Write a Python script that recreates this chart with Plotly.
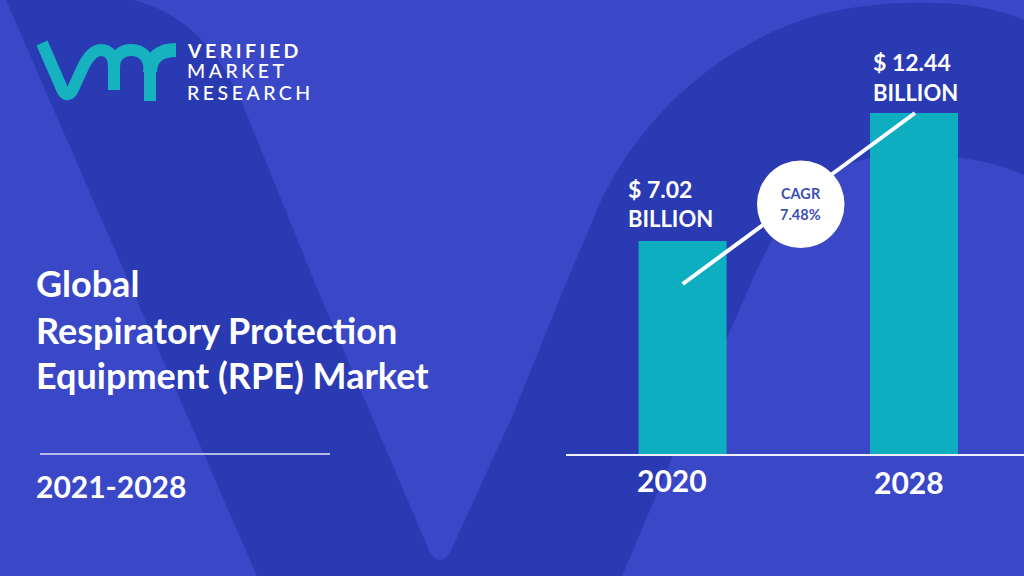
import plotly.graph_objects as go

years = ["2020", "2028"]
market_size = [7.02, 12.44]
cagr = "7.48%"
title_lines = ["Global", "Respiratory Protection", "Equipment (RPE) Market"]
period = "2021-2028"
brand_lines = ["VERIFIED", "MARKET", "RESEARCH"]

W, H = 1024, 576
LIGHT = "#3a48c8"
DARK = "#2a3ab3"
TEAL = "#0daebf"
LOGO_TEAL = "#16b2c0"

# the bars in the source do not start at zero, baseline sits about here
BASE = -2.0
PX_PER_UNIT = 23.62
BASELINE_PX = 454
BAR_STEP = 231.4
FIRST_BAR_PX = 682.6


def px(x):
    return x / W


def py(y):
    return 1 - y / H


def path(*parts):
    # parts are svg commands with pixel coords, converted to paper coords
    out = []
    for part in parts:
        cmd, pts = part[0], part[1:]
        if cmd == "C":
            out.append("C" + " ".join(f"{px(x):.5f},{py(y):.5f}" for x, y in pts))
        else:
            # plotly only reads one point per M/L command
            out.extend(f"{cmd}{px(x):.5f},{py(y):.5f}" for x, y in pts)
    return " ".join(out)


def text(label, x, y, size, color="white", anchor="left", weight=700):
    # annotation boxes pad the text by about 3px
    x = x - 3 if anchor == "left" else x
    return dict(
        text=label, x=px(x), y=py(y), xref="paper", yref="paper",
        xanchor=anchor, yanchor="middle", align=anchor, showarrow=False,
        font=dict(family="Lato", size=size, color=color, weight=weight),
    )


fig = go.Figure()
fig.add_trace(go.Bar(
    x=years,
    y=[v - BASE for v in market_size],
    base=BASE,
    width=88 / BAR_STEP,
    marker=dict(color=TEAL, line=dict(width=0)),
    hoverinfo="skip",
))

# big dark "V" behind everything
v_shape = path(
    ("M", (6, 0)),
    ("L", (133, 0)),
    ("C", (175, 10), (215, 40), (243, 105)),
    ("L", (317, 288), (428, 548)),
    ("C", (434, 564), (446, 564), (452, 548)),
    ("L", (512, 417), (564, 288), (600, 203)),
    ("C", (650, 95), (750, 30), (830, 12)),
    ("C", (900, -3), (980, 0), (1024, 20)),
    ("L", (1024, 175)),
    ("C", (980, 155), (910, 150), (870, 158)),
    ("C", (815, 170), (785, 205), (749, 288)),
    ("L", (727, 338), (672, 458), (622, 576), (257, 576)),
) + " Z"

# logo strokes
logo_v = path(
    ("M", (42, 43)),
    ("L", (62, 89)),
    ("C", (65, 96), (70, 96), (73, 89)),
    ("L", (84, 65)),
    ("C", (90, 54), (95, 50), (101, 50)),
    ("C", (109, 50), (114, 56), (114, 67)),
    ("L", (114, 90)),
)
logo_m = path(
    ("M", (114, 67)),
    ("C", (114, 56), (122, 50), (131, 50)),
    ("C", (143, 50), (150, 58), (150, 72)),
    ("L", (150, 101)),
)
logo_r = path(
    ("M", (150, 72)),
    ("C", (150, 58), (160, 50), (176, 50)),
)

shapes = [
    dict(type="path", path=v_shape, xref="paper", yref="paper",
         fillcolor=DARK, line_width=0, layer="below"),
    dict(type="path", path=logo_v, xref="paper", yref="paper",
         line=dict(color=LOGO_TEAL, width=12), layer="above"),
    dict(type="path", path=logo_m, xref="paper", yref="paper",
         line=dict(color=LOGO_TEAL, width=12), layer="above"),
    dict(type="path", path=logo_r, xref="paper", yref="paper",
         line=dict(color=LOGO_TEAL, width=14), layer="above"),
    # rule under the title
    dict(type="line", x0=px(40), x1=px(330), y0=py(454), y1=py(454),
         xref="paper", yref="paper", line=dict(color="#dfe3f7", width=1.5)),
    # cagr arrow and circle
    dict(type="line", x0=px(682.7), y0=py(284), x1=px(915), y1=py(113),
         xref="paper", yref="paper", line=dict(color="white", width=4), layer="above"),
    dict(type="circle", x0=px(757), x1=px(844.5), y0=py(248), y1=py(160.5),
         xref="paper", yref="paper", fillcolor="white", line_width=0, layer="above"),
]

annotations = [
    text(title_lines[0], 37, 283, 36),
    text(title_lines[1], 37, 330, 36),
    text(title_lines[2], 37, 375, 36),
    text(period, 37, 486, 30),
    text(brand_lines[0], 188, 50, 19.5),
    text(brand_lines[1], 188, 71, 19.5, weight=500),
    text(brand_lines[2], 188, 92, 19.5, weight=500),
    text(f"$ {market_size[0]:.2f}", 629, 189, 23),
    text("BILLION", 629, 218, 22),
    text(f"$ {market_size[1]:.2f}", 874, 62, 23),
    text("BILLION", 874, 92, 22),
    text("CAGR", 800.5, 193, 14.5, color="#4050b5", anchor="center"),
    text(cagr, 800.5, 214, 14.5, color="#4050b5", anchor="center"),
    text(years[0], 671.5, 480, 30, anchor="center"),
    text(years[1], 909, 482, 30, anchor="center"),
]

fig.update_layout(
    width=W, height=H,
    margin=dict(l=0, r=0, t=0, b=0),
    paper_bgcolor=LIGHT,
    plot_bgcolor="rgba(0,0,0,0)",
    showlegend=False,
    shapes=shapes,
    annotations=annotations,
    xaxis=dict(
        type="category",
        domain=[566 / W, 1],
        range=[(566 - FIRST_BAR_PX) / BAR_STEP, (W - FIRST_BAR_PX) / BAR_STEP],
        showgrid=False, zeroline=False, showticklabels=False, ticks="",
        showline=True, linecolor="#eef0fb", linewidth=2,
    ),
    yaxis=dict(
        domain=[(H - BASELINE_PX) / H, 1],
        range=[BASE, BASE + BASELINE_PX / PX_PER_UNIT],
        visible=False,
    ),
)

# plotly has no letter spacing for text, the logo wordmark needs it
spacing = """
document.body.style.margin = '0';
document.querySelectorAll('.annotation-text').forEach(function (t) {
  if (['VERIFIED', 'MARKET', 'RESEARCH'].includes(t.textContent)) {
    t.setAttribute('letter-spacing', '3.5px');
  }
});
"""
fig.write_html("out.html", post_script=spacing, config=dict(displayModeBar=False))
